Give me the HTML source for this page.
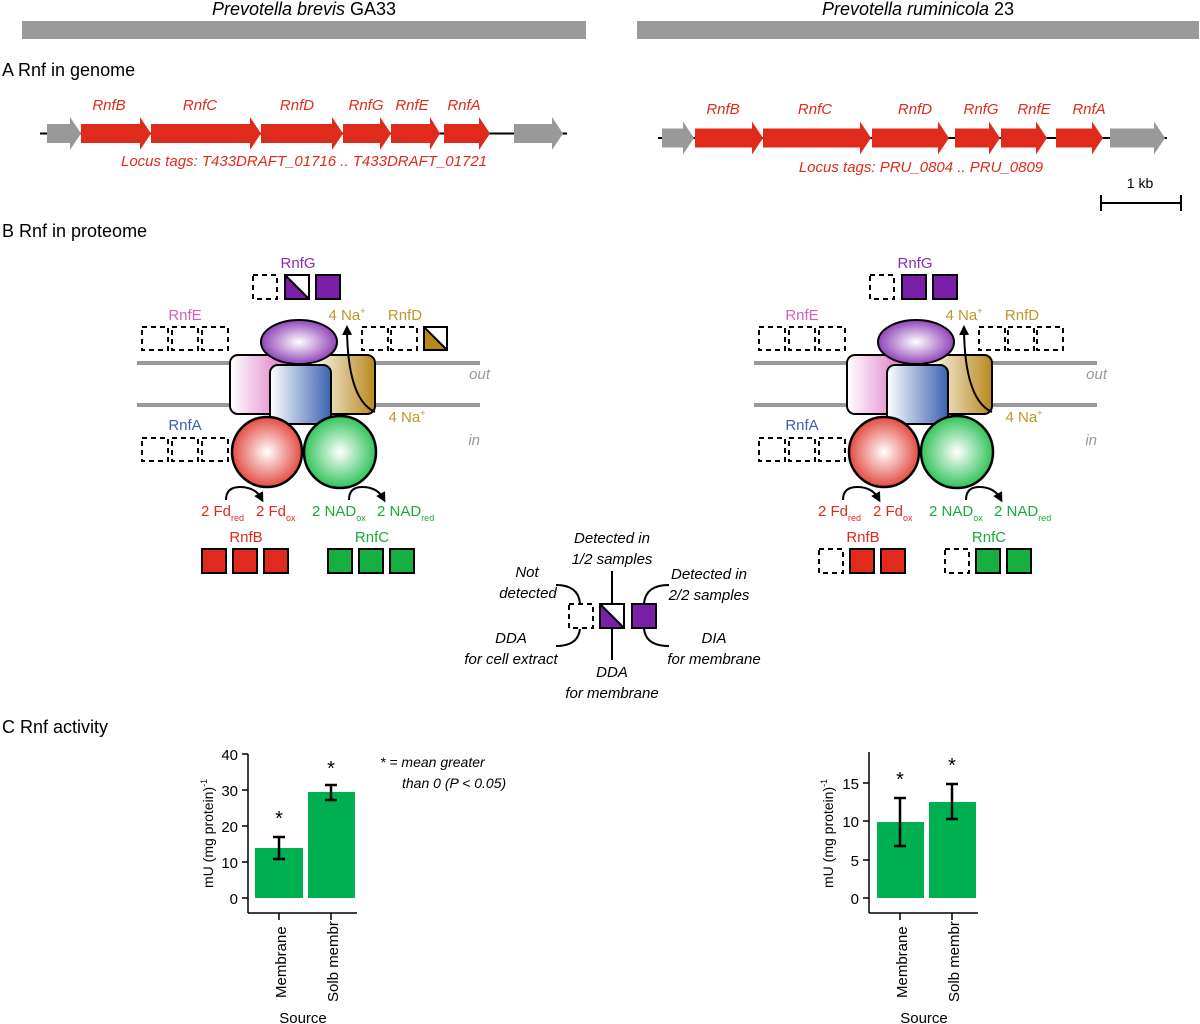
<!DOCTYPE html>
<html><head><meta charset="utf-8"><style>
html,body{margin:0;padding:0;background:#fff;}
svg{display:block;font-family:"Liberation Sans",sans-serif;}
</style></head><body>
<svg width="1200" height="1024" viewBox="0 0 1200 1024" xmlns="http://www.w3.org/2000/svg">
<defs>
<radialGradient id="gr" cx="0.5" cy="0.5" r="0.55"><stop offset="0" stop-color="#fff"/><stop offset="1" stop-color="#e03a30"/></radialGradient>
<radialGradient id="gg" cx="0.5" cy="0.5" r="0.55"><stop offset="0" stop-color="#fff"/><stop offset="1" stop-color="#1ebd4a"/></radialGradient>
<radialGradient id="gp" cx="0.5" cy="0.5" r="0.6"><stop offset="0" stop-color="#fff"/><stop offset="1" stop-color="#7a1fa8"/></radialGradient>
<linearGradient id="gpk" x1="0" x2="1"><stop offset="0" stop-color="#fff"/><stop offset="1" stop-color="#d96ac0"/></linearGradient>
<linearGradient id="gtn" x1="0" x2="1"><stop offset="0" stop-color="#fff"/><stop offset="1" stop-color="#b8881c"/></linearGradient>
<linearGradient id="gbl" x1="0" x2="1"><stop offset="0" stop-color="#fff"/><stop offset="1" stop-color="#3a62b0"/></linearGradient>
<marker id="ah" viewBox="0 0 10 10" refX="5" refY="5" markerWidth="5" markerHeight="5" orient="auto"><path d="M0,0 L10,5 L0,10 z" fill="#000"/></marker>
</defs>

<!-- titles -->
<text x="304" y="15" font-size="18" text-anchor="middle"><tspan font-style="italic">Prevotella brevis</tspan> GA33</text>
<text x="918" y="15" font-size="18" text-anchor="middle"><tspan font-style="italic">Prevotella ruminicola</tspan> 23</text>
<rect x="22" y="21" width="564" height="18" fill="#9a9a9a"/>
<rect x="637" y="21" width="562" height="18" fill="#9a9a9a"/>

<text x="2" y="76" font-size="18">A Rnf in genome</text>
<text x="2" y="237" font-size="18">B Rnf in proteome</text>
<text x="2" y="733" font-size="18">C Rnf activity</text>

<!-- genome left -->
<g>
<line x1="40" y1="133.5" x2="567" y2="133.5" stroke="#000" stroke-width="2"/>
<polygon points="47,124 70,124 70,117 81,133.5 70,150 70,143 47,143" fill="#999"/>
<polygon points="81,124 140,124 140,117 151,133.5 140,150 140,143 81,143" fill="#e02a1c"/>
<polygon points="151,124 250,124 250,117 261,133.5 250,150 250,143 151,143" fill="#e02a1c"/>
<polygon points="261,124 332,124 332,117 343,133.5 332,150 332,143 261,143" fill="#e02a1c"/>
<polygon points="343,124 380,124 380,117 391,133.5 380,150 380,143 343,143" fill="#e02a1c"/>
<polygon points="391,124 430,124 430,117 440,133.5 430,150 430,143 391,143" fill="#e02a1c"/>
<polygon points="444,124 479,124 479,117 490,133.5 479,150 479,143 444,143" fill="#e02a1c"/>
<polygon points="514,124 552,124 552,117 563,133.5 552,150 552,143 514,143" fill="#999"/>
<g fill="#e02a1c" font-size="15" font-style="italic" text-anchor="middle">
<text x="109" y="110">RnfB</text><text x="200" y="110">RnfC</text><text x="297" y="110">RnfD</text>
<text x="366" y="110">RnfG</text><text x="412" y="110">RnfE</text><text x="464" y="110">RnfA</text>
<text x="304" y="166">Locus tags:  T433DRAFT_01716 .. T433DRAFT_01721</text>
</g>
</g>

<!-- genome right -->
<g>
<line x1="658" y1="138" x2="1167" y2="138" stroke="#000" stroke-width="2"/>
<polygon points="662,128.5 683,128.5 683,121.5 694,138 683,154.5 683,147.5 662,147.5" fill="#999"/>
<polygon points="695,128.5 752,128.5 752,121.5 763,138 752,154.5 752,147.5 695,147.5" fill="#e02a1c"/>
<polygon points="763,128.5 860,128.5 860,121.5 871,138 860,154.5 860,147.5 763,147.5" fill="#e02a1c"/>
<polygon points="872,128.5 938,128.5 938,121.5 949,138 938,154.5 938,147.5 872,147.5" fill="#e02a1c"/>
<polygon points="955,128.5 989,128.5 989,121.5 1000,138 989,154.5 989,147.5 955,147.5" fill="#e02a1c"/>
<polygon points="1001,128.5 1036,128.5 1036,121.5 1047,138 1036,154.5 1036,147.5 1001,147.5" fill="#e02a1c"/>
<polygon points="1056,128.5 1092,128.5 1092,121.5 1103,138 1092,154.5 1092,147.5 1056,147.5" fill="#e02a1c"/>
<polygon points="1110,128.5 1154,128.5 1154,121.5 1165,138 1154,154.5 1154,147.5 1110,147.5" fill="#999"/>
<g fill="#e02a1c" font-size="15" font-style="italic" text-anchor="middle">
<text x="723" y="114">RnfB</text><text x="815" y="114">RnfC</text><text x="915" y="114">RnfD</text>
<text x="981" y="114">RnfG</text><text x="1034" y="114">RnfE</text><text x="1089" y="114">RnfA</text>
<text x="921" y="172">Locus tags:  PRU_0804  .. PRU_0809</text>
</g>
<text x="1140" y="188" font-size="14" text-anchor="middle">1 kb</text>
<line x1="1101" y1="203" x2="1181" y2="203" stroke="#000" stroke-width="2"/>
<line x1="1101" y1="195" x2="1101" y2="211" stroke="#000" stroke-width="2"/>
<line x1="1181" y1="195" x2="1181" y2="211" stroke="#000" stroke-width="2"/>
</g>

<!-- proteome common -->
<g id="prot">
<line x1="137" y1="363" x2="480" y2="363" stroke="#999" stroke-width="4"/>
<line x1="137" y1="405" x2="480" y2="405" stroke="#999" stroke-width="4"/>
<text x="490" y="379" font-size="15" fill="#999" font-style="italic" text-anchor="end">out</text>
<text x="480" y="445" font-size="15" fill="#999" font-style="italic" text-anchor="end">in</text>
<rect x="230" y="355" width="62" height="59" rx="8" fill="url(#gpk)" stroke="#000" stroke-width="2"/>
<rect x="310" y="355" width="65" height="59" rx="8" fill="url(#gtn)" stroke="#000" stroke-width="2"/>
<ellipse cx="299" cy="342" rx="38" ry="22" fill="url(#gp)" stroke="#000" stroke-width="2"/>
<rect x="270" y="365" width="61" height="59" rx="8" fill="url(#gbl)" stroke="#000" stroke-width="2"/>
<circle cx="267" cy="452" r="35" fill="url(#gr)" stroke="#000" stroke-width="2.5"/>
<circle cx="340" cy="452" r="36" fill="url(#gg)" stroke="#000" stroke-width="2.5"/>
<path d="M375,412 Q348,400 347,330" fill="none" stroke="#000" stroke-width="2" marker-end="url(#ah)"/>
<path d="M226,500 Q226,487 240,487 Q255,487 261,498" fill="none" stroke="#000" stroke-width="2" marker-end="url(#ah)"/>
<path d="M349,500 Q349,487 362,487 Q377,487 383,498" fill="none" stroke="#000" stroke-width="2" marker-end="url(#ah)"/>
<g font-size="15" text-anchor="middle">
<text x="298" y="268" fill="#8a2bb0">RnfG</text>
<text x="185" y="320" fill="#d660b8">RnfE</text>
<text x="405" y="320" fill="#c0962a">RnfD</text>
<text x="347" y="320" fill="#c0962a">4 Na<tspan font-size="9" dy="-6">+</tspan></text>
<text x="407" y="422" fill="#c0962a">4 Na<tspan font-size="9" dy="-6">+</tspan></text>
<text x="185" y="430" fill="#3a62b0">RnfA</text>
<text x="246" y="542" fill="#e02a1c">RnfB</text>
<text x="372" y="542" fill="#1aaa3c">RnfC</text>
</g>
<g font-size="15" fill="#e02a1c">
<text x="201" y="516">2 Fd<tspan font-size="9" dy="5">red</tspan></text>
<text x="256" y="516">2 Fd<tspan font-size="9" dy="5">ox</tspan></text>
</g>
<g font-size="15" fill="#1aaa3c">
<text x="312" y="516">2 NAD<tspan font-size="9" dy="5">ox</tspan></text>
<text x="377" y="516">2 NAD<tspan font-size="9" dy="5">red</tspan></text>
</g>
<g fill="none" stroke="#000" stroke-width="2" stroke-dasharray="5,4">
<rect x="253" y="275" width="24" height="24"/>
<rect x="142" y="327" width="26" height="23"/><rect x="172" y="327" width="26" height="23"/><rect x="202" y="327" width="26" height="23"/>
<rect x="362" y="327" width="26" height="23"/><rect x="391" y="327" width="26" height="23"/>
<rect x="142" y="438" width="26" height="23"/><rect x="172" y="438" width="26" height="23"/><rect x="202" y="438" width="26" height="23"/>
</g>
</g>

<!-- left specifics -->
<g stroke="#000" stroke-width="2">
<rect x="285" y="275" width="24" height="24" fill="#fff"/><polygon points="285,275 309,299 285,299" fill="#7a1fa8" stroke="none"/><line x1="285" y1="275" x2="309" y2="299"/><rect x="285" y="275" width="24" height="24" fill="none"/>
<rect x="316" y="275" width="24" height="24" fill="#7a1fa8"/>
<rect x="424" y="327" width="23" height="23" fill="#fff"/><polygon points="424,327 447,350 424,350" fill="#b8881c" stroke="none"/><line x1="424" y1="327" x2="447" y2="350"/><rect x="424" y="327" width="23" height="23" fill="none"/>
<rect x="202" y="549" width="24" height="24" fill="#e02a1c"/><rect x="233" y="549" width="24" height="24" fill="#e02a1c"/><rect x="264" y="549" width="24" height="24" fill="#e02a1c"/>
<rect x="328" y="549" width="24" height="24" fill="#15b040"/><rect x="359" y="549" width="24" height="24" fill="#15b040"/><rect x="390" y="549" width="24" height="24" fill="#15b040"/>
</g>

<!-- right proteome -->
<use href="#prot" transform="translate(617,0)"/>
<g stroke="#000" stroke-width="2" transform="translate(617,0)">
<rect x="285" y="275" width="24" height="24" fill="#7a1fa8"/>
<rect x="316" y="275" width="24" height="24" fill="#7a1fa8"/>
<rect x="420" y="327" width="26" height="23" fill="none" stroke-dasharray="5,4"/>
<rect x="202" y="549" width="24" height="24" fill="none" stroke-dasharray="5,4"/><rect x="233" y="549" width="24" height="24" fill="#e02a1c"/><rect x="264" y="549" width="24" height="24" fill="#e02a1c"/>
<rect x="328" y="549" width="24" height="24" fill="none" stroke-dasharray="5,4"/><rect x="359" y="549" width="24" height="24" fill="#15b040"/><rect x="390" y="549" width="24" height="24" fill="#15b040"/>
</g>

<!-- legend -->
<g stroke="#000" stroke-width="2">
<rect x="569" y="604" width="24" height="24" fill="none" stroke-dasharray="5,4"/>
<rect x="600" y="604" width="24" height="24" fill="#fff"/><polygon points="600,604 624,628 600,628" fill="#7a1fa8" stroke="none"/><line x1="600" y1="604" x2="624" y2="628"/><rect x="600" y="604" width="24" height="24" fill="none"/>
<rect x="632" y="604" width="24" height="24" fill="#7a1fa8"/>
<line x1="612" y1="571" x2="612" y2="604"/><line x1="612" y1="628" x2="612" y2="660"/>
<path d="M556,585 Q578,585 580,603" fill="none"/>
<path d="M556,646 Q578,646 580,629" fill="none"/>
<path d="M669,585 Q646,585 644,603" fill="none"/>
<path d="M669,646 Q646,646 644,629" fill="none"/>
</g>
<g font-size="15" font-style="italic" text-anchor="middle">
<text x="612" y="543">Detected in</text><text x="612" y="564">1/2 samples</text>
<text x="527" y="577">Not</text><text x="528" y="598">detected</text>
<text x="709" y="579">Detected in</text><text x="709" y="600">2/2 samples</text>
<text x="511" y="643">DDA</text><text x="511" y="664">for cell extract</text>
<text x="714" y="643">DIA</text><text x="714" y="664">for membrane</text>
<text x="612" y="677">DDA</text><text x="612" y="698">for membrane</text>
</g>

<!-- chart left -->
<g font-size="15">
<rect x="255" y="848" width="48" height="50" fill="#00b050"/>
<rect x="308" y="792" width="47" height="106" fill="#00b050"/>
<g stroke="#000" stroke-width="1.5" fill="none">
<line x1="248" y1="754" x2="248" y2="913"/><line x1="248" y1="913" x2="357" y2="913"/>
<line x1="242" y1="754" x2="248" y2="754"/><line x1="242" y1="790" x2="248" y2="790"/><line x1="242" y1="826" x2="248" y2="826"/><line x1="242" y1="862" x2="248" y2="862"/><line x1="242" y1="898" x2="248" y2="898"/>
<line x1="279" y1="913" x2="279" y2="920"/><line x1="331" y1="913" x2="331" y2="920"/>
</g>
<g stroke="#000" stroke-width="2.5">
<line x1="279" y1="837" x2="279" y2="859"/><line x1="273" y1="837" x2="285" y2="837"/><line x1="273" y1="859" x2="285" y2="859"/>
<line x1="331" y1="785" x2="331" y2="800"/><line x1="325" y1="785" x2="337" y2="785"/><line x1="325" y1="800" x2="337" y2="800"/>
</g>
<g text-anchor="end"><text x="238" y="760">40</text><text x="238" y="796">30</text><text x="238" y="832">20</text><text x="238" y="868">10</text><text x="238" y="904">0</text></g>
<text x="279" y="825" font-size="20" text-anchor="middle">*</text>
<text x="331" y="775" font-size="20" text-anchor="middle">*</text>
<text transform="translate(213,888) rotate(-90)" font-size="14">mU (mg protein)<tspan font-size="9" dy="-6">-1</tspan></text>
<text transform="translate(286,998) rotate(-90)">Membrane</text>
<text transform="translate(338,1002) rotate(-90)">Solb membr</text>
<text x="303" y="1023" text-anchor="middle">Source</text>
<text x="380" y="767" font-style="italic" font-size="14">* = mean greater</text>
<text x="402" y="788" font-style="italic" font-size="14">than 0 (P &lt; 0.05)</text>
</g>

<!-- chart right -->
<g font-size="15">
<rect x="877" y="822" width="47" height="76" fill="#00b050"/>
<rect x="929" y="802" width="47" height="96" fill="#00b050"/>
<g stroke="#000" stroke-width="1.5" fill="none">
<line x1="869" y1="752" x2="869" y2="913"/><line x1="869" y1="913" x2="978" y2="913"/>
<line x1="863" y1="783" x2="869" y2="783"/><line x1="863" y1="821" x2="869" y2="821"/><line x1="863" y1="860" x2="869" y2="860"/><line x1="863" y1="898" x2="869" y2="898"/>
<line x1="900" y1="913" x2="900" y2="920"/><line x1="952" y1="913" x2="952" y2="920"/>
</g>
<g stroke="#000" stroke-width="2.5">
<line x1="900" y1="798" x2="900" y2="846"/><line x1="894" y1="798" x2="906" y2="798"/><line x1="894" y1="846" x2="906" y2="846"/>
<line x1="952" y1="784" x2="952" y2="819"/><line x1="946" y1="784" x2="958" y2="784"/><line x1="946" y1="819" x2="958" y2="819"/>
</g>
<g text-anchor="end"><text x="859" y="789">15</text><text x="859" y="827">10</text><text x="859" y="866">5</text><text x="859" y="904">0</text></g>
<text x="900" y="786" font-size="20" text-anchor="middle">*</text>
<text x="952" y="772" font-size="20" text-anchor="middle">*</text>
<text transform="translate(833,888) rotate(-90)" font-size="14">mU (mg protein)<tspan font-size="9" dy="-6">-1</tspan></text>
<text transform="translate(907,998) rotate(-90)">Membrane</text>
<text transform="translate(959,1002) rotate(-90)">Solb membr</text>
<text x="924" y="1023" text-anchor="middle">Source</text>
</g>
</svg>
</body></html>
